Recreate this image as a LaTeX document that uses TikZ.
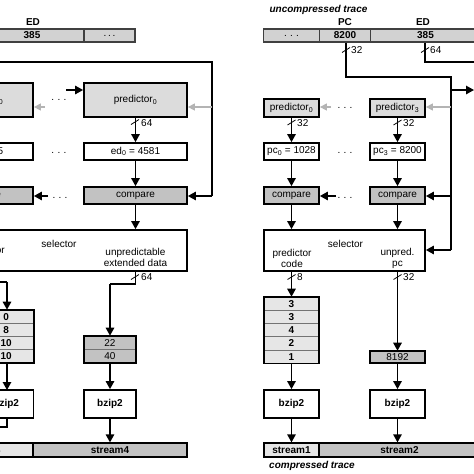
\documentclass[tikz,border=0pt]{standalone}
\usepackage{fontspec}
\setmainfont{Liberation Sans}
\usetikzlibrary{arrows.meta}
\definecolor{lg}{HTML}{DCDCDC}
\definecolor{lgs}{HTML}{E6E6E6}
\definecolor{mg}{HTML}{C2C2C2}
\definecolor{barc}{HTML}{D2D2D2}
\definecolor{garrow}{HTML}{B4B4B4}
\begin{document}
\begin{tikzpicture}[x=1pt,y=-1pt,
  font=\fontsize{10}{12}\selectfont,
  bx/.style={draw, line width=1.8pt, inner sep=0pt, align=center},
  cell/.style={draw=black!75, line width=1.1pt, inner sep=0pt, fill=barc},
  row/.style={draw=black!55, line width=0.6pt, inner sep=0pt, minimum width=55pt, minimum height=13.25pt, font=\fontsize{10}{12}\selectfont\bfseries},
  ln/.style={line width=1.4pt},
  arr/.style={line width=1.4pt, -{Triangle[length=8pt,width=8.5pt]}},
  garr/.style={line width=1.4pt, draw=garrow, -{Triangle[length=7pt,width=7pt]}},
  sl/.style={line width=0.8pt},
  lbl/.style={inner sep=0pt, anchor=west},
  bf/.style={font=\fontsize{10}{12}\selectfont\bfseries},
  dots/.style={inner sep=0pt}
]
\useasboundingbox (0,0) rectangle (474,474);
\clip (0,0) rectangle (474,474);

% ================= LEFT PANEL =================
\node[bf, inner sep=0pt] (edL) at (33,22) {ED};
\node[cell, minimum width=104pt, minimum height=13pt, bf] (c385L) at (32,35.5) {385};
\node[cell, minimum width=51pt, minimum height=13pt] (cdotsL) at (109.5,35.5) {.\,.\,.};

% predictors
\node[bx, fill=lg, minimum width=103pt, minimum height=34pt] (lpA) at (-18.5,100) {predictor\textsubscript{0}};
\node[bx, fill=lg, minimum width=103pt, minimum height=34pt] (lpB) at (135.5,100) {predictor\textsubscript{0}};
\node[dots] (ldots1) at (59,100) {.\,\,.\,\,.};
\coordinate (fA) at (-5,62);
\coordinate (fB) at (212,62);
\coordinate (fC) at (212,196);
\draw[ln] (fA) -- (fB) -- (fC);
\draw[arr] (fC) -- (lpB.east |- fC) coordinate (tmp);
\coordinate (gB) at (212,107);
\draw[garr] (gB) -- (lpB.east |- gB);
\coordinate (gA) at (45,107);
\draw[garr] (gA) -- (lpA.east |- gA);
\coordinate (bA) at (66,90);
\draw[arr] (bA) -- (lpB.west |- bA);

% ed boxes
\node[bx, fill=white, minimum width=103pt, minimum height=17pt] (leA) at (-18.5,151.5) {ed\textsubscript{0} = 385};
\node[bx, fill=white, minimum width=103pt, minimum height=17pt] (leB) at (135.5,151.5) {ed\textsubscript{0} = 4581};
\node[dots] (ldots2) at (59,153) {.\,\,.\,\,.};
\draw[arr] (lpB.south) -- (leB.north);
\draw[sl] (131,124.5) -- (139,119.5);
\node[lbl] (l64a) at (141,123) {64};

% compare
\node[bx, fill=mg, minimum width=103pt, minimum height=17pt] (lcA) at (-18.5,195.5) {compare};
\node[bx, fill=mg, minimum width=103pt, minimum height=17pt] (lcB) at (135.5,195.5) {compare};
\node[dots] (ldots3) at (60,198) {.\,\,.\,\,.};
\draw[arr] (leB.south) -- (lcB.north);
\coordinate (cA) at (48,196);
\draw[arr] (cA) -- (lcA.east |- cA);

% selector
\node[bx, fill=white, minimum width=387pt, minimum height=41pt] (lsel) at (-6.5,250.5) {};
\draw[arr] (lcB.south) -- (lcB.south |- lsel.north);
\node[inner sep=0pt] (lselt) at (59,244) {selector};
\node[inner sep=0pt, anchor=east] (lpc) at (5,251) {predictor};
\node[inner sep=0pt, align=center] (lunp) at (135.5,257) {unpredictable\\[-1pt]extended data};

% left bottom branch (predictor code)
\coordinate (sa1) at (-15,271);
\coordinate (sa2) at (-15,282);
\coordinate (sa3) at (7,282);
\node[row, fill=lgs, minimum width=54.5pt] (lr1) at (6.25,316.6) {0};
\node[row, fill=lgs, minimum width=54.5pt] (lr2) at (6.25,329.9) {8};
\node[row, fill=lgs, minimum width=54.5pt] (lr3) at (6.25,343.1) {10};
\node[row, fill=lgs, minimum width=54.5pt] (lr4) at (6.25,356.4) {10};
\draw[line width=1.8pt] (lr1.north west) rectangle (lr4.south east);
\draw[ln] (sa1) -- (sa2) -- (sa3);
\draw[arr] (sa3) -- (sa3 |- lr1.north);
\node[bx, fill=white, minimum width=54.5pt, minimum height=28pt, bf] (lbzA) at (6.25,404) {bzip2};
\draw[arr] (7,363) -- (7,390);
\coordinate (lb1) at (7,427);
\coordinate (lb2) at (-10,427);
\draw[ln] (lbzA.south -| lb1) -- (lb1) -- (lb2);

% unpredictable data branch
\node[row, fill=mg, minimum width=52pt, font=\fontsize{10}{12}\selectfont] (u1) at (110,342.6) {22};
\node[row, fill=mg, minimum width=52pt, font=\fontsize{10}{12}\selectfont] (u2) at (110,355.9) {40};
\draw[line width=1.8pt] (u1.north west) rectangle (u2.south east);
\coordinate (ub1) at (135.5,284);
\coordinate (ub2) at (110,284);
\draw[ln] (lsel.south -| ub1) -- (ub1) -- (ub2);
\draw[arr] (ub2) -- (u1.north);
\draw[sl] (131,279.5) -- (139,274.5);
\node[lbl] (l64b) at (141,277) {64};
\node[bx, fill=white, minimum width=52pt, minimum height=28pt, bf] (lbzB) at (110,404) {bzip2};
\draw[arr] (u2.south) -- (lbzB.north);

% streams
\node[cell, fill=lgs, minimum width=103pt, minimum height=14pt, bf, draw=black, line width=1.3pt] (s3) at (-18.5,450) {stream3};
\node[cell, fill=mg, minimum width=154pt, minimum height=14pt, bf, draw=black, line width=1.3pt] (s4) at (110,450) {stream4};
\draw[arr] (lbzB.south) -- (s4.north);

% ================= RIGHT PANEL =================
\node[inner sep=0pt, font=\fontsize{10}{12}\selectfont\bfseries\itshape] (utr) at (318.5,10) {uncompressed trace};
\node[bf, inner sep=0pt] (pcl) at (345,22) {PC};
\node[bf, inner sep=0pt] (edr) at (423,22) {ED};
\node[cell, minimum width=56pt, minimum height=13pt] (rdots) at (291.5,35.5) {.\,\,.\,\,.};
\node[cell, minimum width=51pt, minimum height=13pt, bf] (c8200) at (345,35.5) {8200};
\node[cell, minimum width=110pt, minimum height=13pt, bf] (c385R) at (425.5,35.5) {385};

% PC wire
\coordinate (j1) at (346,77);
\coordinate (j2) at (451,77);
\coordinate (j3) at (451,250);
\draw[ln] (c8200.south -| j1) -- (j1) -- (j2) -- (j3);
\draw[sl] (342,52.5) -- (350,47.5);
\node[lbl] (r32a) at (351,50) {32};
\coordinate (jo1) at (451,90);
\coordinate (jo2) at (474,90);
\draw[arr] (jo1) -- (jo2);
% ED wire
\coordinate (e1) at (425,62);
\coordinate (e2) at (480,62);
\draw[ln] (c385R.south -| e1) -- (e1) -- (e2);
\draw[sl] (421,52.5) -- (429,47.5);
\node[lbl] (r64a) at (430,50) {64};

% predictors
\node[bx, fill=lg, minimum width=55pt, minimum height=18pt] (rp0) at (291.5,108) {predictor\textsubscript{0}};
\node[bx, fill=lg, minimum width=55pt, minimum height=18pt] (rp3) at (397.5,108) {predictor\textsubscript{3}};
\node[dots] (rdots1) at (345,108) {.\,\,.\,\,.};
\coordinate (g3) at (451,107);
\draw[garr] (g3) -- (rp3.east |- g3);
\coordinate (g0) at (331,107);
\draw[garr] (g0) -- (rp0.east |- g0);

% pc boxes
\node[bx, fill=white, minimum width=55pt, minimum height=17pt] (rpc0) at (291.5,151.5) {pc\textsubscript{0} = 1028};
\node[bx, fill=white, minimum width=55pt, minimum height=17pt] (rpc3) at (397.5,151.5) {pc\textsubscript{3} = 8200};
\node[dots] (rdots2) at (345,153) {.\,\,.\,\,.};
\draw[arr] (rp0.south) -- (rpc0.north);
\draw[arr] (rp3.south) -- (rpc3.north);
\draw[sl] (287.5,125) -- (295.5,120);
\node[lbl] (r32b) at (297,123) {32};
\draw[sl] (393.5,125) -- (401.5,120);
\node[lbl] (r32c) at (403,123) {32};

% compare
\node[bx, fill=mg, minimum width=55pt, minimum height=17pt] (rc0) at (291.5,195.5) {compare};
\node[bx, fill=mg, minimum width=55pt, minimum height=17pt] (rc3) at (397.5,195.5) {compare};
\node[dots] (rdots3) at (345,198) {.\,\,.\,\,.};
\draw[arr] (rpc0.south) -- (rc0.north);
\draw[arr] (rpc3.south) -- (rc3.north);
\coordinate (k3) at (451,196);
\draw[arr] (k3) -- (rc3.east |- k3);
\coordinate (k0) at (336,196);
\draw[arr] (k0) -- (rc0.east |- k0);

% selector
\node[bx, fill=white, minimum width=161pt, minimum height=41pt] (rsel) at (344.5,250.5) {};
\node[inner sep=0pt] (rselt) at (345.5,244) {selector};
\node[inner sep=0pt, align=center] (rpcode) at (292,258) {predictor\\[-1pt]code};
\node[inner sep=0pt, align=center] (runp) at (397.5,258) {unpred.\\[-1pt]pc};
\draw[arr] (rc0.south) -- (rc0.south |- rsel.north);
\draw[arr] (rc3.south) -- (rc3.south |- rsel.north);
\draw[arr] (j3) -- (rsel.east |- j3);

% code stack
\node[row, fill=lgs] (q1) at (291.5,303.6) {3};
\node[row, fill=lgs] (q2) at (291.5,316.85) {3};
\node[row, fill=lgs] (q3) at (291.5,330.1) {4};
\node[row, fill=lgs] (q4) at (291.5,343.35) {2};
\node[row, fill=lgs] (q5) at (291.5,356.6) {1};
\draw[line width=1.8pt] (q1.north west) rectangle (q5.south east);
\draw[arr] (rsel.south -| q1) -- (q1.north);
\draw[sl] (287.5,279.5) -- (295.5,274.5);
\node[lbl] (r8) at (297,277) {8};

% unpredictable pc
\node[row, fill=mg, minimum height=12pt, font=\fontsize{10}{12}\selectfont] (v1) at (397.5,357) {8192};
\draw[line width=1.8pt] (v1.north west) rectangle (v1.south east);
\draw[arr] (rsel.south -| v1) -- (v1.north);
\draw[sl] (393.5,279.5) -- (401.5,274.5);
\node[lbl] (r32d) at (403,277) {32};

% bzip2
\node[bx, fill=white, minimum width=55pt, minimum height=28pt, bf] (rbz0) at (291.5,404) {bzip2};
\node[bx, fill=white, minimum width=55pt, minimum height=28pt, bf] (rbz1) at (397.5,404) {bzip2};
\draw[arr] (q5.south) -- (rbz0.north);
\draw[arr] (v1.south) -- (rbz1.north);

% streams
\node[cell, fill=lgs, minimum width=55pt, minimum height=14pt, bf, draw=black, line width=1.3pt] (s1) at (291.5,450) {stream1};
\node[cell, fill=mg, minimum width=161pt, minimum height=14pt, bf, draw=black, line width=1.3pt] (s2) at (399.5,450) {stream2};
\draw[arr] (rbz0.south) -- (s1.north);
\draw[arr] (rbz1.south) -- (rbz1.south |- s2.north);
\node[inner sep=0pt, font=\fontsize{10}{12}\selectfont\bfseries\itshape] (ctr) at (312,466) {compressed trace};
\end{tikzpicture}
\end{document}
